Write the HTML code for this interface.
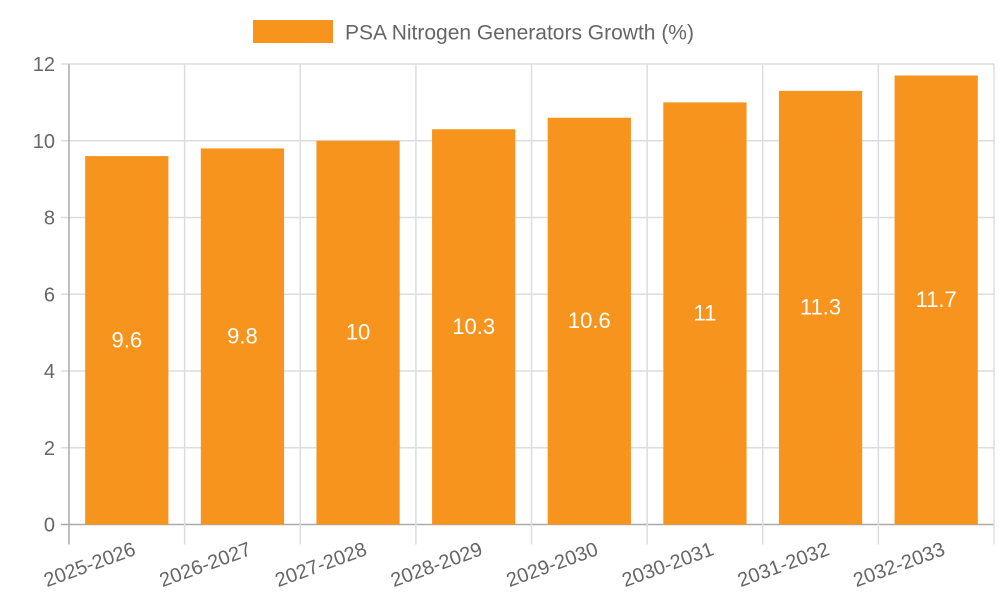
<!DOCTYPE html>
<html><head><meta charset="utf-8"><style>
body{margin:0;background:#fff;}
svg text{font-family:"Liberation Sans",sans-serif;}
</style></head><body>
<svg id="chart" width="1000" height="600">
<g>
<rect x="253" y="20" width="80" height="23" fill="#f7941e"/>
<text x="345" y="39.5" font-size="21" fill="#666">PSA Nitrogen Generators Growth (%)</text>
</g>
<g id="grid"></g><g id="bars"></g><g id="labels"></g>
</svg>
<script>
const categories=["2025-2026","2026-2027","2027-2028","2028-2029","2029-2030","2030-2031","2031-2032","2032-2033"];
const values=[9.6,9.8,10,10.3,10.6,11,11.3,11.7];
const yTicks=[0,2,4,6,8,10,12];
const L=69,R=994,T=64,B=524.5,yMax=12;
const bw=(R-L)/categories.length;
const y=v=>B-(v/yMax)*(B-T);
const x=i=>L+i*bw;
const NS="http://www.w3.org/2000/svg";
function mk(p,t,a){const e=document.createElementNS(NS,t);for(const k in a)e.setAttribute(k,a[k]);p.appendChild(e);return e;}
const g=document.getElementById('grid'),bg=document.getElementById('bars'),lg=document.getElementById('labels');
yTicks.forEach(v=>{
 const l=mk(g,'line',{x1:L-8,x2:R,y1:y(v),y2:y(v),stroke:v===0?'#aaa':'#ddd','stroke-width':1.5});
 
 
 const t=mk(g,'text',{x:L-14,y:y(v)+7,'text-anchor':'end','font-size':20,fill:'#666'});
 t.textContent=v;
 
 
});
for(let i=0;i<=categories.length;i++){
 const l=mk(g,'line',{x1:x(i),x2:x(i),y1:T,y2:B+20,stroke:i===0?'#aaa':'#ddd','stroke-width':1.5});
 
 
}
categories.forEach((c,i)=>{
 const cx=x(i)+bw/2,w=bw*0.72;
 const r=mk(bg,'rect',{x:cx-w/2,y:y(values[i]),width:w,height:B-y(values[i]),fill:'#f7941e'});
 
 
 const vt=mk(lg,'text',{x:cx,y:(y(values[i])+B)/2+7,'text-anchor':'middle','font-size':22,fill:'#fff'});
 vt.textContent=values[i];
 
 
 const t=mk(lg,'text',{x:cx+10,y:B+30,'text-anchor':'end','font-size':20,fill:'#666',transform:`rotate(-20 ${cx+10} ${B+30})`});
 t.textContent=c;
 
 
});
</script>
</body></html>
